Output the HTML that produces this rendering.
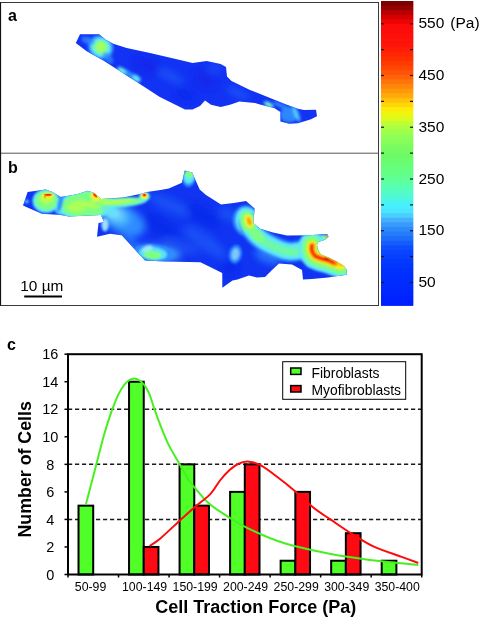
<!DOCTYPE html>
<html><head><meta charset="utf-8"><title>Cell traction force</title>
<style>
html,body{margin:0;padding:0;background:#fff;}
svg{display:block;font-family:"Liberation Sans",Arial,Helvetica,sans-serif;fill:#000}
</style></head><body>
<svg width="480" height="617" viewBox="0 0 480 617">
<defs>
<linearGradient id="cb" x1="0" y1="0" x2="0" y2="1"><stop offset="0.0000" stop-color="#730000"/><stop offset="0.0164" stop-color="#870000"/><stop offset="0.0296" stop-color="#a50000"/><stop offset="0.0460" stop-color="#c80000"/><stop offset="0.0624" stop-color="#e60000"/><stop offset="0.0755" stop-color="#fa0a0a"/><stop offset="0.1445" stop-color="#ff140a"/><stop offset="0.1938" stop-color="#ff3200"/><stop offset="0.2430" stop-color="#ff5a0a"/><stop offset="0.2857" stop-color="#ff8c0a"/><stop offset="0.3186" stop-color="#ffb40a"/><stop offset="0.3383" stop-color="#ffd20a"/><stop offset="0.3580" stop-color="#faf00a"/><stop offset="0.3810" stop-color="#e6fa14"/><stop offset="0.4072" stop-color="#b4ff3c"/><stop offset="0.4499" stop-color="#8cff5a"/><stop offset="0.5025" stop-color="#6efa64"/><stop offset="0.5616" stop-color="#64ff82"/><stop offset="0.6043" stop-color="#5affaa"/><stop offset="0.6404" stop-color="#50fad2"/><stop offset="0.6732" stop-color="#46f0ff"/><stop offset="0.6962" stop-color="#4be1ff"/><stop offset="0.7159" stop-color="#46b4ff"/><stop offset="0.7422" stop-color="#3291fa"/><stop offset="0.7783" stop-color="#1e6efa"/><stop offset="0.8177" stop-color="#0a46ff"/><stop offset="0.8834" stop-color="#0032ff"/><stop offset="0.9491" stop-color="#0028ff"/><stop offset="1.0000" stop-color="#001eff"/></linearGradient>
<clipPath id="ca"><polygon points="80.0,34.3 99.2,34.3 105.8,39.7 113.3,43.8 126.7,48.0 150.0,53.0 180.0,60.0 192.5,63.0 206.6,61.0 220.6,64.0 226.0,67.0 227.0,76.5 231.5,81.0 250.0,90.0 273.8,99.4 286.2,104.6 298.0,108.8 304.0,110.0 316.0,109.7 317.0,116.2 311.0,119.2 303.8,121.4 298.0,123.2 289.2,123.8 280.4,121.4 280.4,111.9 274.6,108.2 260.0,104.6 255.0,103.0 239.4,101.5 230.0,104.7 220.6,106.9 211.0,104.7 205.0,100.6 200.0,106.0 192.5,109.4 185.0,109.5 159.4,96.8 143.3,86.3 120.0,71.3 103.3,60.5 86.7,51.3 75.8,43.0"/></clipPath>
<clipPath id="cbp"><polygon points="27.6,192.0 45.7,189.4 52.5,192.0 60.6,197.0 77.0,194.3 87.7,190.7 94.5,193.0 101.0,199.0 123.0,197.5 140.0,194.0 147.0,192.0 160.6,190.0 168.8,188.4 181.9,182.8 183.8,174.4 184.7,170.6 192.2,172.5 195.0,179.0 199.7,189.4 206.0,195.0 221.0,204.6 233.8,203.0 246.0,201.0 254.6,208.5 253.4,223.0 260.0,228.8 273.0,232.5 287.0,235.4 309.0,235.3 319.0,234.6 327.2,233.9 328.6,236.8 325.0,239.7 318.4,241.9 317.0,244.8 317.7,249.0 320.6,254.3 328.0,257.2 336.7,261.6 344.0,266.0 346.5,269.6 346.9,274.7 338.0,276.0 328.0,277.6 311.9,279.0 303.0,279.5 302.0,270.0 292.0,264.5 279.0,263.5 272.0,270.0 265.0,277.0 257.0,277.5 249.0,275.5 237.5,279.5 232.5,280.4 222.3,287.7 222.3,273.0 210.6,267.3 200.4,262.3 165.4,261.5 145.0,260.6 139.2,254.2 121.7,235.2 110.0,233.8 97.0,236.8 98.5,223.0 104.0,222.0 101.0,215.0 68.8,216.5 60.6,215.0 41.7,213.8 28.0,207.8 23.0,205.6"/></clipPath>
<filter id="bl" x="-20%" y="-20%" width="140%" height="140%"><feGaussianBlur stdDeviation="1.6"/></filter>
<filter id="bg" x="-30%" y="-30%" width="160%" height="160%"><feGaussianBlur stdDeviation="3.5"/></filter>
<filter id="hot" x="-30%" y="-30%" width="160%" height="160%"><feGaussianBlur stdDeviation="0.6"/></filter>
<filter id="arcf" x="-30%" y="-30%" width="160%" height="160%"><feGaussianBlur stdDeviation="0.9"/></filter>
<filter id="bl2" x="-20%" y="-20%" width="140%" height="140%"><feGaussianBlur stdDeviation="1.3"/></filter>
</defs>
<rect x="0" y="0" width="480" height="617" fill="#fff"/>
<!-- panels -->
<rect x="0.5" y="2.5" width="378" height="303" fill="#fff" stroke="#3a3a3a" stroke-width="1"/>
<line x1="0.5" y1="153.2" x2="378.5" y2="153.2" stroke="#555" stroke-width="1"/>
<line x1="0.5" y1="2.5" x2="0.5" y2="305.5" stroke="#111" stroke-width="1.2"/>
<!-- cell a -->
<g clip-path="url(#ca)"><rect x="70" y="30" width="255" height="100" fill="#1232f4"/><g filter="url(#bg)"><ellipse cx="148" cy="66" rx="15" ry="7" transform="rotate(25 148 66)" fill="#0c1ee6" opacity="0.6"/><ellipse cx="205" cy="80" rx="13" ry="8" transform="rotate(30 205 80)" fill="#0c1ee6" opacity="0.55"/><ellipse cx="185" cy="95" rx="11" ry="5" transform="rotate(20 185 95)" fill="#0c1ee6" opacity="0.5"/><ellipse cx="170" cy="76" rx="15" ry="5" transform="rotate(25 170 76)" fill="#2f8cff" opacity="0.3"/><ellipse cx="238" cy="93" rx="13" ry="4" transform="rotate(25 238 93)" fill="#2f8cff" opacity="0.35"/><ellipse cx="215" cy="68" rx="8" ry="4" transform="rotate(10 215 68)" fill="#2f8cff" opacity="0.25"/></g><g filter="url(#bl)"><ellipse cx="100.8" cy="47.2" rx="13" ry="12" transform="rotate(30 100.8 47.2)" fill="#2f8cff" opacity="1"/><ellipse cx="100.8" cy="47.2" rx="10.5" ry="9.5" transform="rotate(30 100.8 47.2)" fill="#5fe6fa" opacity="1"/><ellipse cx="100.8" cy="47.2" rx="7.6" ry="7" transform="rotate(30 100.8 47.2)" fill="#7dff82" opacity="1"/><ellipse cx="101" cy="47.2" rx="4.5" ry="4.5" transform="rotate(30 101 47.2)" fill="#c8ff3c" opacity="0.55"/><ellipse cx="88" cy="40.5" rx="7" ry="3.5" transform="rotate(20 88 40.5)" fill="#2f8cff" opacity="0.8"/><ellipse cx="108" cy="58" rx="4" ry="7" transform="rotate(-40 108 58)" fill="#2f8cff" opacity="0.7"/><ellipse cx="129" cy="74.5" rx="10" ry="3" transform="rotate(33 129 74.5)" fill="#2f8cff" opacity="1"/><ellipse cx="121.7" cy="70.5" rx="5" ry="2.6" transform="rotate(35 121.7 70.5)" fill="#5fe6fa" opacity="1"/><ellipse cx="121.7" cy="70.8" rx="2.5" ry="1.3" transform="rotate(35 121.7 70.8)" fill="#7dff82" opacity="1"/><ellipse cx="136.5" cy="78.5" rx="4.5" ry="3" transform="rotate(40 136.5 78.5)" fill="#5fe6fa" opacity="1"/><ellipse cx="289" cy="114.5" rx="9" ry="8" transform="rotate(0 289 114.5)" fill="#2f8cff" opacity="0.95"/><ellipse cx="281" cy="105.5" rx="9" ry="2.2" transform="rotate(25 281 105.5)" fill="#2f8cff" opacity="0.9"/><ellipse cx="268.75" cy="104.6" rx="5.5" ry="2.4" transform="rotate(30 268.75 104.6)" fill="#5fe6fa" opacity="1"/><ellipse cx="268.75" cy="104.8" rx="2.8" ry="1.4" transform="rotate(30 268.75 104.8)" fill="#7dff82" opacity="1"/><ellipse cx="296.5" cy="114" rx="2.4" ry="8.5" transform="rotate(-22 296.5 114)" fill="#5fe6fa" opacity="0.75"/></g></g>
<!-- cell b -->
<g clip-path="url(#cbp)"><rect x="20" y="165" width="335" height="130" fill="#1034f2"/><g filter="url(#bg)"><ellipse cx="170" cy="205" rx="24" ry="7" transform="rotate(25 170 205)" fill="#2f8cff" opacity="0.3"/><ellipse cx="205" cy="242" rx="26" ry="8" transform="rotate(35 205 242)" fill="#2f8cff" opacity="0.3"/><ellipse cx="180" cy="246" rx="20" ry="6" transform="rotate(20 180 246)" fill="#2f8cff" opacity="0.25"/><ellipse cx="228" cy="214" rx="10" ry="6" transform="rotate(30 228 214)" fill="#2f8cff" opacity="0.3"/><ellipse cx="160" cy="226" rx="20" ry="9" transform="rotate(30 160 226)" fill="#0c1ee6" opacity="0.5"/><ellipse cx="203" cy="216" rx="20" ry="9" transform="rotate(30 203 216)" fill="#0c1ee6" opacity="0.5"/><ellipse cx="230" cy="268" rx="10" ry="8" transform="rotate(0 230 268)" fill="#0c1ee6" opacity="0.4"/><ellipse cx="122" cy="219" rx="25" ry="14" transform="rotate(30 122 219)" fill="#2f8cff" opacity="1"/><ellipse cx="116" cy="215" rx="14" ry="8.5" transform="rotate(28 116 215)" fill="#5fe6fa" opacity="0.55"/><ellipse cx="114" cy="213" rx="9" ry="5" transform="rotate(25 114 213)" fill="#a8ecfa" opacity="0.6"/><ellipse cx="158" cy="253" rx="23" ry="7" transform="rotate(8 158 253)" fill="#5fe6fa" opacity="0.6"/><ellipse cx="133" cy="245" rx="5" ry="14" transform="rotate(-42 133 245)" fill="#2f8cff" opacity="0.6"/><ellipse cx="268" cy="256" rx="14" ry="7" transform="rotate(20 268 256)" fill="#2f8cff" opacity="0.7"/></g><g filter="url(#bl2)"><ellipse cx="26.6" cy="201.5" rx="2.5" ry="2" transform="rotate(0 26.6 201.5)" fill="#5fe6fa" opacity="0.7"/><ellipse cx="46" cy="201" rx="13.5" ry="12" transform="rotate(0 46 201)" fill="#5fe6fa" opacity="1"/><ellipse cx="46.3" cy="200.6" rx="11" ry="9.8" transform="rotate(0 46.3 200.6)" fill="#7dff82" opacity="1"/><ellipse cx="46.5" cy="199" rx="7" ry="5" transform="rotate(0 46.5 199)" fill="#c8ff3c" opacity="0.7"/><ellipse cx="48" cy="195.6" rx="5.5" ry="2.4" transform="rotate(0 48 195.6)" fill="#fff01e" opacity="1"/><ellipse cx="60" cy="210" rx="5" ry="5" transform="rotate(0 60 210)" fill="#5fe6fa" opacity="0.8"/><ellipse cx="120" cy="202.4" rx="27" ry="5" transform="rotate(-4 120 202.4)" fill="#5fe6fa" opacity="1"/><ellipse cx="86" cy="205" rx="29" ry="15" transform="rotate(-5 86 205)" fill="#5fe6fa" opacity="1"/><ellipse cx="86.5" cy="204.5" rx="25.5" ry="12.5" transform="rotate(-5 86.5 204.5)" fill="#7dff82" opacity="1"/><ellipse cx="78" cy="206" rx="11" ry="5.5" transform="rotate(-10 78 206)" fill="#c8ff3c" opacity="0.6"/><ellipse cx="97" cy="202.5" rx="10" ry="5" transform="rotate(-20 97 202.5)" fill="#c8ff3c" opacity="0.6"/><ellipse cx="60.3" cy="203" rx="2.6" ry="9" transform="rotate(12 60.3 203)" fill="#2f8cff" opacity="0.95"/><ellipse cx="95" cy="196.4" rx="4.6" ry="3.2" transform="rotate(45 95 196.4)" fill="#fff01e" opacity="1"/><ellipse cx="110" cy="211" rx="9" ry="5.5" transform="rotate(30 110 211)" fill="#5fe6fa" opacity="0.7"/><ellipse cx="105" cy="225" rx="3.5" ry="6.5" transform="rotate(0 105 225)" fill="#a8ecfa" opacity="0.9"/><ellipse cx="120" cy="202" rx="26" ry="3.4" transform="rotate(-4 120 202)" fill="#7dff82" opacity="1"/><ellipse cx="116" cy="201.8" rx="18" ry="1.6" transform="rotate(-4 116 201.8)" fill="#c8ff3c" opacity="0.8"/><ellipse cx="144.4" cy="196.5" rx="5.5" ry="5" transform="rotate(0 144.4 196.5)" fill="#5fe6fa" opacity="1"/><ellipse cx="144.4" cy="196.2" rx="4.2" ry="3.8" transform="rotate(0 144.4 196.2)" fill="#7dff82" opacity="1"/><ellipse cx="144.4" cy="195.8" rx="3.2" ry="2.8" transform="rotate(0 144.4 195.8)" fill="#fff01e" opacity="1"/><ellipse cx="189" cy="178" rx="6.5" ry="9" transform="rotate(10 189 178)" fill="#2f8cff" opacity="1"/><ellipse cx="189" cy="176.5" rx="5.5" ry="7" transform="rotate(10 189 176.5)" fill="#5fe6fa" opacity="1"/><ellipse cx="189" cy="174" rx="4.5" ry="4" transform="rotate(10 189 174)" fill="#7dff82" opacity="1"/><ellipse cx="154" cy="253" rx="20" ry="8.5" transform="rotate(6 154 253)" fill="#2f8cff" opacity="1"/><ellipse cx="153" cy="253.5" rx="14" ry="6.5" transform="rotate(6 153 253.5)" fill="#5fe6fa" opacity="0.95"/><ellipse cx="147.5" cy="248.5" rx="5.5" ry="3" transform="rotate(-20 147.5 248.5)" fill="#a8ecfa" opacity="0.8"/><ellipse cx="152.5" cy="255" rx="9" ry="4.2" transform="rotate(4 152.5 255)" fill="#7dff82" opacity="1"/><ellipse cx="235.4" cy="254.2" rx="6.5" ry="9.5" transform="rotate(10 235.4 254.2)" fill="#2f8cff" opacity="0.9"/><ellipse cx="235.4" cy="254.2" rx="3.8" ry="6" transform="rotate(10 235.4 254.2)" fill="#a8ecfa" opacity="0.65"/><ellipse cx="246.5" cy="221" rx="14" ry="16" transform="rotate(-15 246.5 221)" fill="#2f8cff" opacity="0.8"/><ellipse cx="247.2" cy="221" rx="11.5" ry="14" transform="rotate(-15 247.2 221)" fill="#5fe6fa" opacity="1"/><path d="M249 223 C252 234.5 262 241.5 277 248 S296 251 309 248.5" fill="none" stroke="#2f8cff" stroke-width="21" stroke-linecap="round" opacity="0.8"/><path d="M249 223 C252 234.5 262 241.5 277 248 S296 251 309 248.5" fill="none" stroke="#5fe6fa" stroke-width="16" stroke-linecap="round" opacity="1"/><ellipse cx="258" cy="236.5" rx="10" ry="7" transform="rotate(42 258 236.5)" fill="#5fe6fa" opacity="1"/><path d="M249 223 C252 234.5 262 241.5 277 248 S296 251 309 248.5" fill="none" stroke="#6efaa0" stroke-width="8" stroke-linecap="round" opacity="0.95"/><ellipse cx="257" cy="235.5" rx="9" ry="5.5" transform="rotate(45 257 235.5)" fill="#7dff82" opacity="0.9"/><ellipse cx="248" cy="222" rx="8" ry="11.5" transform="rotate(-18 248 222)" fill="#7dff82" opacity="1"/><ellipse cx="248.8" cy="221.2" rx="4.2" ry="7" transform="rotate(-18 248.8 221.2)" fill="#fff01e" opacity="0.9"/><ellipse cx="249.3" cy="221.3" rx="1.9" ry="4.2" transform="rotate(-18 249.3 221.3)" fill="#ff8c00" opacity="0.9"/><ellipse cx="320" cy="238.6" rx="10" ry="3.6" transform="rotate(-8 320 238.6)" fill="#5fe6fa" opacity="1"/><ellipse cx="321.5" cy="238.6" rx="7.5" ry="2.3" transform="rotate(-8 321.5 238.6)" fill="#7dff82" opacity="0.9"/><path d="M312 245 Q310 251 315 256 Q321 259 328 260.2 L341 265" fill="none" stroke="#5fe6fa" stroke-width="26" stroke-linecap="round"/><path d="M312 245 Q310 251 315 256 Q321 259 328 260.2 L341 265" fill="none" stroke="#7dff82" stroke-width="19" stroke-linecap="round"/></g><g filter="url(#arcf)"><path d="M312 245 Q310 251 315 256 Q321 259 328 260.2 L341 265" fill="none" stroke="#fff01e" stroke-width="9.5" stroke-linecap="round"/><path d="M312 245.5 Q310.5 251 315 256 Q321 259 328 260.2 L335.5 263.4" fill="none" stroke="#ff8c00" stroke-width="5.6" stroke-linecap="round"/><path d="M312 245.5 Q310.5 251 315 256 Q321 259 328 260.2 L333.5 262.8" fill="none" stroke="#f5140a" stroke-width="3.1" stroke-linecap="round"/><ellipse cx="326.5" cy="258.6" rx="3" ry="1.2" transform="rotate(15 326.5 258.6)" fill="#a00000" opacity="1"/><ellipse cx="341" cy="264.8" rx="1.8" ry="1.3" transform="rotate(20 341 264.8)" fill="#ff8c00" opacity="1"/><ellipse cx="327.2" cy="236.3" rx="1.8" ry="1.4" transform="rotate(0 327.2 236.3)" fill="#ff8c00" opacity="1"/></g><g filter="url(#hot)"><ellipse cx="48" cy="195" rx="4.2" ry="1.3" transform="rotate(0 48 195)" fill="#ff8c00" opacity="1"/><ellipse cx="48" cy="194.7" rx="3.4" ry="0.7" transform="rotate(0 48 194.7)" fill="#f5140a" opacity="0.9"/><ellipse cx="45" cy="196.5" rx="1" ry="2" transform="rotate(0 45 196.5)" fill="#ff8c00" opacity="0.7"/><ellipse cx="95" cy="195.6" rx="3" ry="1.3" transform="rotate(45 95 195.6)" fill="#ff8c00" opacity="1"/><ellipse cx="95.2" cy="195.3" rx="2.2" ry="0.7" transform="rotate(45 95.2 195.3)" fill="#f5140a" opacity="0.9"/><ellipse cx="144.4" cy="195.2" rx="2" ry="1.6" transform="rotate(0 144.4 195.2)" fill="#ff8c00" opacity="1"/><ellipse cx="144.4" cy="194.9" rx="1.2" ry="1" transform="rotate(0 144.4 194.9)" fill="#f5140a" opacity="0.9"/></g></g>
<!-- colorbar -->
<rect x="381" y="1" width="32.2" height="304.5" fill="url(#cb)"/><rect x="381" y="1.00" width="32.2" height="4.91" fill="#7c0000"/><rect x="381" y="5.61" width="32.2" height="4.91" fill="#950000"/><rect x="381" y="10.23" width="32.2" height="4.91" fill="#b70000"/><rect x="381" y="14.84" width="32.2" height="4.91" fill="#d50000"/><rect x="381" y="19.45" width="32.2" height="4.91" fill="#ef0404"/><rect x="381" y="24.07" width="32.2" height="4.91" fill="#fb0b0a"/><rect x="381" y="28.68" width="32.2" height="4.91" fill="#fc0d0a"/><rect x="381" y="33.30" width="32.2" height="4.91" fill="#fd100a"/><rect x="381" y="37.91" width="32.2" height="4.91" fill="#fe120a"/><rect x="381" y="42.52" width="32.2" height="4.91" fill="#ff140a"/><rect x="381" y="47.14" width="32.2" height="4.91" fill="#ff1d07"/><rect x="381" y="51.75" width="32.2" height="4.91" fill="#ff2604"/><rect x="381" y="56.36" width="32.2" height="4.91" fill="#ff2f01"/><rect x="381" y="60.98" width="32.2" height="4.91" fill="#ff3b02"/><rect x="381" y="65.59" width="32.2" height="4.91" fill="#ff4705"/><rect x="381" y="70.20" width="32.2" height="4.91" fill="#ff5308"/><rect x="381" y="74.82" width="32.2" height="4.91" fill="#ff620a"/><rect x="381" y="79.43" width="32.2" height="4.91" fill="#ff740a"/><rect x="381" y="84.05" width="32.2" height="4.91" fill="#ff860a"/><rect x="381" y="88.66" width="32.2" height="4.91" fill="#ff980a"/><rect x="381" y="93.27" width="32.2" height="4.91" fill="#ffaa0a"/><rect x="381" y="97.89" width="32.2" height="4.91" fill="#ffbf0a"/><rect x="381" y="102.50" width="32.2" height="4.91" fill="#fed60a"/><rect x="381" y="107.11" width="32.2" height="4.91" fill="#faed0a"/><rect x="381" y="111.73" width="32.2" height="4.91" fill="#eef610"/><rect x="381" y="116.34" width="32.2" height="4.91" fill="#dcfb1c"/><rect x="381" y="120.95" width="32.2" height="4.91" fill="#bffe33"/><rect x="381" y="125.57" width="32.2" height="4.91" fill="#abff43"/><rect x="381" y="130.18" width="32.2" height="4.91" fill="#9dff4d"/><rect x="381" y="134.80" width="32.2" height="4.91" fill="#8fff58"/><rect x="381" y="139.41" width="32.2" height="4.91" fill="#85fe5c"/><rect x="381" y="144.02" width="32.2" height="4.91" fill="#7cfc5f"/><rect x="381" y="148.64" width="32.2" height="4.91" fill="#74fb62"/><rect x="381" y="153.25" width="32.2" height="4.91" fill="#6dfa67"/><rect x="381" y="157.86" width="32.2" height="4.91" fill="#6bfc6e"/><rect x="381" y="162.48" width="32.2" height="4.91" fill="#68fd76"/><rect x="381" y="167.09" width="32.2" height="4.91" fill="#65fe7e"/><rect x="381" y="171.70" width="32.2" height="4.91" fill="#62ff88"/><rect x="381" y="176.32" width="32.2" height="4.91" fill="#5fff96"/><rect x="381" y="180.93" width="32.2" height="4.91" fill="#5bffa5"/><rect x="381" y="185.55" width="32.2" height="4.91" fill="#57feb4"/><rect x="381" y="190.16" width="32.2" height="4.91" fill="#53fcc5"/><rect x="381" y="194.77" width="32.2" height="4.91" fill="#4ff9d7"/><rect x="381" y="199.39" width="32.2" height="4.91" fill="#4af4ec"/><rect x="381" y="204.00" width="32.2" height="4.91" fill="#46efff"/><rect x="381" y="208.61" width="32.2" height="4.91" fill="#4ae5ff"/><rect x="381" y="213.23" width="32.2" height="4.91" fill="#49ceff"/><rect x="381" y="217.84" width="32.2" height="4.91" fill="#43affe"/><rect x="381" y="222.45" width="32.2" height="4.91" fill="#389bfb"/><rect x="381" y="227.07" width="32.2" height="4.91" fill="#2e89fa"/><rect x="381" y="231.68" width="32.2" height="4.91" fill="#257bfa"/><rect x="381" y="236.30" width="32.2" height="4.91" fill="#1d6cfa"/><rect x="381" y="240.91" width="32.2" height="4.91" fill="#155dfc"/><rect x="381" y="245.52" width="32.2" height="4.91" fill="#0e4dfe"/><rect x="381" y="250.14" width="32.2" height="4.91" fill="#0944ff"/><rect x="381" y="254.75" width="32.2" height="4.91" fill="#063fff"/><rect x="381" y="259.36" width="32.2" height="4.91" fill="#043aff"/><rect x="381" y="263.98" width="32.2" height="4.91" fill="#0236ff"/><rect x="381" y="268.59" width="32.2" height="4.91" fill="#0032ff"/><rect x="381" y="273.20" width="32.2" height="4.91" fill="#002fff"/><rect x="381" y="277.82" width="32.2" height="4.91" fill="#002dff"/><rect x="381" y="282.43" width="32.2" height="4.91" fill="#002bff"/><rect x="381" y="287.05" width="32.2" height="4.91" fill="#0028ff"/><rect x="381" y="291.66" width="32.2" height="4.91" fill="#0025ff"/><rect x="381" y="296.27" width="32.2" height="4.91" fill="#0022ff"/><rect x="381" y="300.89" width="32.2" height="4.91" fill="#001fff"/>
<line x1="381" y1="23.75" x2="384" y2="23.75" stroke="#151515" stroke-width="1.2"/><line x1="410" y1="23.75" x2="413" y2="23.75" stroke="#151515" stroke-width="1.2"/><line x1="381" y1="49.62" x2="384" y2="49.62" stroke="#151515" stroke-width="1.2"/><line x1="410" y1="49.62" x2="413" y2="49.62" stroke="#151515" stroke-width="1.2"/><line x1="381" y1="75.50" x2="384" y2="75.50" stroke="#151515" stroke-width="1.2"/><line x1="410" y1="75.50" x2="413" y2="75.50" stroke="#151515" stroke-width="1.2"/><line x1="381" y1="101.38" x2="384" y2="101.38" stroke="#151515" stroke-width="1.2"/><line x1="410" y1="101.38" x2="413" y2="101.38" stroke="#151515" stroke-width="1.2"/><line x1="381" y1="127.25" x2="384" y2="127.25" stroke="#151515" stroke-width="1.2"/><line x1="410" y1="127.25" x2="413" y2="127.25" stroke="#151515" stroke-width="1.2"/><line x1="381" y1="153.12" x2="384" y2="153.12" stroke="#151515" stroke-width="1.2"/><line x1="410" y1="153.12" x2="413" y2="153.12" stroke="#151515" stroke-width="1.2"/><line x1="381" y1="179.00" x2="384" y2="179.00" stroke="#151515" stroke-width="1.2"/><line x1="410" y1="179.00" x2="413" y2="179.00" stroke="#151515" stroke-width="1.2"/><line x1="381" y1="204.88" x2="384" y2="204.88" stroke="#151515" stroke-width="1.2"/><line x1="410" y1="204.88" x2="413" y2="204.88" stroke="#151515" stroke-width="1.2"/><line x1="381" y1="230.75" x2="384" y2="230.75" stroke="#151515" stroke-width="1.2"/><line x1="410" y1="230.75" x2="413" y2="230.75" stroke="#151515" stroke-width="1.2"/><line x1="381" y1="256.62" x2="384" y2="256.62" stroke="#151515" stroke-width="1.2"/><line x1="410" y1="256.62" x2="413" y2="256.62" stroke="#151515" stroke-width="1.2"/><line x1="381" y1="282.50" x2="384" y2="282.50" stroke="#151515" stroke-width="1.2"/><line x1="410" y1="282.50" x2="413" y2="282.50" stroke="#151515" stroke-width="1.2"/>
<text x="418.4" y="28.45" font-size="15.5">550 <tspan dx="1.8">(Pa)</tspan></text><text x="418.4" y="80.20" font-size="15.5">450</text><text x="418.4" y="131.95" font-size="15.5">350</text><text x="418.4" y="183.70" font-size="15.5">250</text><text x="418.4" y="235.45" font-size="15.5">150</text><text x="418.4" y="287.20" font-size="15.5">50</text>
<text x="8" y="21.3" font-size="16" font-weight="bold">a</text>
<text x="8" y="172.5" font-size="16" font-weight="bold">b</text>
<text x="7" y="349.6" font-size="16" font-weight="bold">c</text>
<text x="20.3" y="290.6" font-size="15.4">10 µm</text>
<rect x="24.2" y="295.5" width="37.8" height="2" fill="#000"/>
<!-- chart -->
<line x1="68.0" y1="519.42" x2="421.7" y2="519.42" stroke="#1a1a1a" stroke-width="1.5" stroke-dasharray="4.2 2.8"/><line x1="68.0" y1="464.35" x2="421.7" y2="464.35" stroke="#1a1a1a" stroke-width="1.5" stroke-dasharray="4.2 2.8"/><line x1="68.0" y1="409.27" x2="421.7" y2="409.27" stroke="#1a1a1a" stroke-width="1.5" stroke-dasharray="4.2 2.8"/>
<rect x="78.51" y="505.66" width="14.70" height="68.84" fill="#50ff28" stroke="#000" stroke-width="2"/><rect x="129.04" y="381.74" width="14.70" height="192.76" fill="#50ff28" stroke="#000" stroke-width="2"/><rect x="143.74" y="546.96" width="14.70" height="27.54" fill="#ff0a14" stroke="#000" stroke-width="2"/><rect x="179.57" y="464.35" width="14.70" height="110.15" fill="#50ff28" stroke="#000" stroke-width="2"/><rect x="194.27" y="505.66" width="14.70" height="68.84" fill="#ff0a14" stroke="#000" stroke-width="2"/><rect x="230.10" y="491.89" width="14.70" height="82.61" fill="#50ff28" stroke="#000" stroke-width="2"/><rect x="244.80" y="464.35" width="14.70" height="110.15" fill="#ff0a14" stroke="#000" stroke-width="2"/><rect x="280.63" y="560.73" width="14.70" height="13.77" fill="#50ff28" stroke="#000" stroke-width="2"/><rect x="295.33" y="491.89" width="14.70" height="82.61" fill="#ff0a14" stroke="#000" stroke-width="2"/><rect x="331.16" y="560.73" width="14.70" height="13.77" fill="#50ff28" stroke="#000" stroke-width="2"/><rect x="345.86" y="533.19" width="14.70" height="41.31" fill="#ff0a14" stroke="#000" stroke-width="2"/><rect x="381.69" y="560.73" width="14.70" height="13.77" fill="#50ff28" stroke="#000" stroke-width="2"/>
<path d="M86.0 504.0 C86.5 501.9 87.5 498.4 89.2 491.7 C91.0 485.0 94.1 473.0 96.5 463.7 C98.9 454.4 101.4 444.2 103.8 435.7 C106.2 427.2 108.7 419.5 111.1 412.6 C113.5 405.7 116.2 399.0 118.4 394.3 C120.6 389.6 122.7 387.0 124.5 384.6 C126.3 382.2 127.6 381.2 129.3 380.2 C131.0 379.2 132.7 378.4 134.5 378.5 C136.3 378.6 138.6 379.8 140.3 381.0 C142.1 382.2 143.5 383.8 145.0 386.0 C146.5 388.2 147.9 390.5 149.5 394.3 C151.1 398.1 152.3 403.2 154.3 408.9 C156.3 414.6 159.2 422.3 161.6 428.4 C164.0 434.5 166.1 439.7 168.9 445.4 C171.8 451.1 175.4 456.7 178.7 462.4 C181.9 468.1 185.2 474.6 188.4 479.5 C191.6 484.4 194.8 487.8 198.1 491.6 C201.3 495.5 204.7 499.6 207.9 502.6 C211.2 505.7 213.9 507.4 217.6 509.9 C221.2 512.4 225.4 515.1 229.8 517.8 C234.2 520.5 238.7 523.6 243.8 526.2 C248.8 528.9 254.3 531.4 260.0 533.9 C265.7 536.4 271.8 538.9 277.7 541.0 C283.6 543.1 286.5 544.1 295.4 546.3 C304.2 548.5 319.0 551.8 330.8 554.0 C342.6 556.2 354.4 557.9 366.2 559.4 C378.0 560.9 393.0 562.4 401.7 563.3 C410.4 564.2 415.5 564.7 418.3 565.0" fill="none" stroke="#46f01e" stroke-width="2"/>
<path d="M149.6 546.0 C151.3 544.8 154.8 543.2 160.0 538.8 C165.2 534.3 175.1 524.9 181.0 519.5 C186.9 514.1 190.8 510.5 195.7 506.3 C200.6 502.1 206.2 498.4 210.3 494.1 C214.4 489.8 216.8 484.6 220.0 480.5 C223.2 476.4 226.8 472.6 229.8 469.8 C232.8 467.1 235.1 465.4 238.0 464.0 C240.9 462.6 243.8 461.4 247.5 461.5 C251.2 461.6 255.0 462.2 260.0 464.8 C265.0 467.4 271.8 472.8 277.7 477.2 C283.6 481.6 289.5 486.4 295.4 491.4 C301.3 496.4 307.1 502.6 313.0 507.3 C318.9 512.0 324.3 515.3 330.8 519.7 C337.3 524.1 344.9 529.5 352.0 533.9 C359.1 538.3 365.0 542.5 373.3 546.3 C381.6 550.1 394.2 554.1 401.7 556.9 C409.2 559.7 415.5 561.9 418.3 562.9" fill="none" stroke="#ff0a0a" stroke-width="2"/>
<rect x="68.0" y="354.2" width="353.70" height="220.30" fill="none" stroke="#000" stroke-width="2"/>
<line x1="68.00" y1="574.5" x2="68.00" y2="577.5" stroke="#000" stroke-width="1.5"/><line x1="118.53" y1="574.5" x2="118.53" y2="577.5" stroke="#000" stroke-width="1.5"/><line x1="169.06" y1="574.5" x2="169.06" y2="577.5" stroke="#000" stroke-width="1.5"/><line x1="219.59" y1="574.5" x2="219.59" y2="577.5" stroke="#000" stroke-width="1.5"/><line x1="270.11" y1="574.5" x2="270.11" y2="577.5" stroke="#000" stroke-width="1.5"/><line x1="320.64" y1="574.5" x2="320.64" y2="577.5" stroke="#000" stroke-width="1.5"/><line x1="371.17" y1="574.5" x2="371.17" y2="577.5" stroke="#000" stroke-width="1.5"/><line x1="421.70" y1="574.5" x2="421.70" y2="577.5" stroke="#000" stroke-width="1.5"/><line x1="64.5" y1="574.50" x2="68.0" y2="574.50" stroke="#000" stroke-width="1.5"/><line x1="64.5" y1="546.96" x2="68.0" y2="546.96" stroke="#000" stroke-width="1.5"/><line x1="64.5" y1="519.42" x2="68.0" y2="519.42" stroke="#000" stroke-width="1.5"/><line x1="64.5" y1="491.89" x2="68.0" y2="491.89" stroke="#000" stroke-width="1.5"/><line x1="64.5" y1="464.35" x2="68.0" y2="464.35" stroke="#000" stroke-width="1.5"/><line x1="64.5" y1="436.81" x2="68.0" y2="436.81" stroke="#000" stroke-width="1.5"/><line x1="64.5" y1="409.27" x2="68.0" y2="409.27" stroke="#000" stroke-width="1.5"/><line x1="64.5" y1="381.74" x2="68.0" y2="381.74" stroke="#000" stroke-width="1.5"/><line x1="64.5" y1="354.20" x2="68.0" y2="354.20" stroke="#000" stroke-width="1.5"/>
<text x="50.3" y="579.70" text-anchor="middle" font-size="14.5">0</text><text x="50.3" y="552.16" text-anchor="middle" font-size="14.5">2</text><text x="50.3" y="524.62" text-anchor="middle" font-size="14.5">4</text><text x="50.3" y="497.09" text-anchor="middle" font-size="14.5">6</text><text x="50.3" y="469.55" text-anchor="middle" font-size="14.5">8</text><text x="50.3" y="442.01" text-anchor="middle" font-size="14.5">10</text><text x="50.3" y="414.47" text-anchor="middle" font-size="14.5">12</text><text x="50.3" y="386.94" text-anchor="middle" font-size="14.5">14</text><text x="50.3" y="359.40" text-anchor="middle" font-size="14.5">16</text>
<text x="90.56" y="591.3" text-anchor="middle" font-size="12.3">50-99</text><text x="144.59" y="591.3" text-anchor="middle" font-size="12.3">100-149</text><text x="195.12" y="591.3" text-anchor="middle" font-size="12.3">150-199</text><text x="245.65" y="591.3" text-anchor="middle" font-size="12.3">200-249</text><text x="296.18" y="591.3" text-anchor="middle" font-size="12.3">250-299</text><text x="346.71" y="591.3" text-anchor="middle" font-size="12.3">300-349</text><text x="397.24" y="591.3" text-anchor="middle" font-size="12.3">350-400</text>
<rect x="282.7" y="361.7" width="123" height="37.6" fill="#fff" stroke="#000" stroke-width="1"/>
<rect x="290.7" y="368" width="10.3" height="6.4" fill="#50ff28" stroke="#000" stroke-width="1.5"/>
<rect x="290.7" y="385.6" width="10.3" height="6.4" fill="#ff0a14" stroke="#000" stroke-width="1.5"/>
<text x="311.5" y="377.7" font-size="13.9">Fibroblasts</text>
<text x="311.5" y="395" font-size="13.9">Myofibroblasts</text>
<text x="255.8" y="612.5" text-anchor="middle" font-size="18" font-weight="bold">Cell Traction Force (Pa)</text>
<text transform="translate(31.4 469.3) rotate(-90)" text-anchor="middle" font-size="17.8" font-weight="bold">Number of Cells</text>
</svg>
</body></html>
